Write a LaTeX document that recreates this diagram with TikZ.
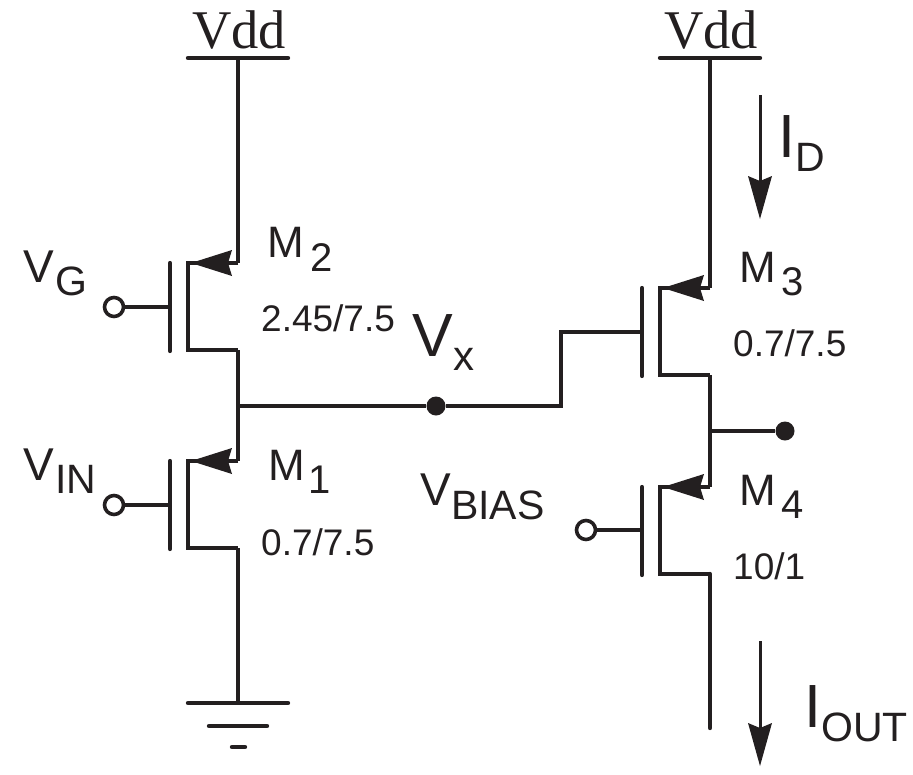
\documentclass[tikz,border=0pt]{standalone}
\usepackage{fontspec}
\setmainfont{Liberation Sans}
\newfontfamily\vddfont{Liberation Serif}
\usetikzlibrary{arrows.meta}
\definecolor{ink}{HTML}{231F20}
\tikzset{
  wire/.style={draw=ink, line width=4.4pt, line join=miter},
  rail/.style={draw=ink, line width=4.4pt, line cap=round},
  plate/.style={draw=ink, line width=4.2pt, line cap=round},
  srctip/.style={draw=ink, line width=4pt, -{Stealth[length=41pt,width=26pt,inset=4pt,line width=0pt,ink]}},
  current/.style={draw=ink, line width=3pt, -{Stealth[length=43pt,width=24pt,inset=5pt,line width=0pt,ink]}},
  term/.style={circle, draw=ink, fill=white, line width=3.6pt, minimum size=19pt, inner sep=0pt},
  dotnode/.style={circle, fill=ink, minimum size=19pt, inner sep=0pt},
  lab/.style={text=ink, inner sep=0pt, anchor=base west, font=\fontsize{#1}{#1}\selectfont},
  vdd/.style={text=ink, inner sep=0pt, anchor=base west, font=\vddfont\fontsize{54.5}{54.5}\selectfont}
}
\begin{document}
\begin{tikzpicture}[x=1pt, y=-1pt]
\useasboundingbox (0,0) rectangle (913,774);

% the four transistors, given by the corner of source and drain line
\foreach \n/\px/\py in {1/238/461, 2/238/263, 3/710/288, 4/710/487} {
  \coordinate (M\n s) at (\px,\py);
  \coordinate (M\n t) at (\px-50,\py);
  \coordinate (M\n b) at (\px-50,\py+87);
  \coordinate (M\n d) at (\px,\py+87);
  \coordinate (M\n a) at (\px-47,\py);
  \coordinate (M\n g) at (\px-68,\py+44);
  \coordinate (M\n gt) at (\px-68,\py);
  \coordinate (M\n gb) at (\px-68,\py+88);
  \draw[wire] (M\n s) -- (M\n t) -- (M\n b) -- (M\n d);
  \draw[srctip] (M\n s) -- (M\n a);
  \draw[plate] (M\n gt) -- (M\n gb);
}

% supply and ground
\coordinate (railL) at (238,58);
\coordinate (railR) at (710,58);
\coordinate (gnd) at (238,703);
\draw[rail] (188,58) -- (288,58);
\draw[rail] (660,58) -- (760,58);
\draw[rail] (188,703) -- (288,703);
\draw[rail] (209,726) -- (267,726);
\draw[rail] (232,747) -- (245,747);

% left branch
\draw[wire] (railL) -- (M2s);
\draw[wire] (M2d) -- (M1s);
\draw[wire] (M1d) -- (gnd);

% right branch
\coordinate (outEnd) at (710,728);
\draw[wire] (railR) -- (M3s);
\draw[wire] (M3d) -- (M4s);
\draw[wire, line cap=round] (M4d) -- (outEnd);

% gate terminals
\node[term] (VGt) at (114,307) {};
\node[term] (VINt) at (114,505) {};
\node[term] (VBt) at (586,530) {};
\draw[wire, line width=3.6pt] (VGt) -- (VGt -| M2g);
\draw[wire, line width=3.6pt] (VINt) -- (VINt -| M1g);
\draw[wire, line width=3.6pt] (VBt) -- (VBt -| M4g);

% middle node to gate of M3
\coordinate (midL) at (238,406);
\coordinate (midC) at (561,406);
\coordinate (midU) at (561,332);
\node[dotnode] (Vxd) at (436,406) {};
\draw[wire] (midL) -- (Vxd) -- (midC) -- (midU) -- (M3g);

% output dot
\coordinate (outL) at (710,431);
\node[dotnode] (outd) at (785,431) {};
\draw[wire] (outL) -- (outd);

% current arrows
\coordinate (IDa) at (760,95);
\coordinate (IDb) at (760,219);
\coordinate (IOa) at (760,641);
\coordinate (IOb) at (760,766);
\draw[current] (IDa) -- (IDb);
\draw[current] (IOa) -- (IOb);

% labels
\node[vdd] (VddL) at (192,48) {Vdd};
\node[vdd] (VddR) at (664,48) {Vdd};

\node[lab=44] (M2n) at (267,257) {M};
\node[lab=40] (M2i) at (310,271) {2};
\node[lab=37] (M2w) at (261,331) {2.45/7.5};
\node[lab=44] (M1n) at (268,480) {M};
\node[lab=40] (M1i) at (308,493) {1};
\node[lab=37] (M1w) at (261,555) {0.7/7.5};
\node[lab=44] (M3n) at (739,282) {M};
\node[lab=40] (M3i) at (781,295) {3};
\node[lab=37] (M3w) at (733,356) {0.7/7.5};
\node[lab=44] (M4n) at (739,505) {M};
\node[lab=40] (M4i) at (781,518) {4};
\node[lab=37] (M4w) at (733,579) {10/1};

\node[lab=46] (VGa) at (23,282) {V};
\node[lab=41] (VGb) at (55,295) {G};
\node[lab=46] (VINa) at (23,480) {V};
\node[lab=41] (VINb) at (55,493) {IN};
\node[lab=46] (VBa) at (420,505) {V};
\node[lab=41] (VBb) at (451,519) {BIAS};
\node[lab=61] (Vxa) at (412,356) {V};
\node[lab=42] (Vxb) at (453,370) {x};
\node[lab=61] (IDn) at (778,157) {I};
\node[lab=41] (IDs) at (795,171) {D};
\node[lab=61] (IOn) at (804,727) {I};
\node[lab=41] (IOs) at (821,741) {OUT};
\end{tikzpicture}
\end{document}
